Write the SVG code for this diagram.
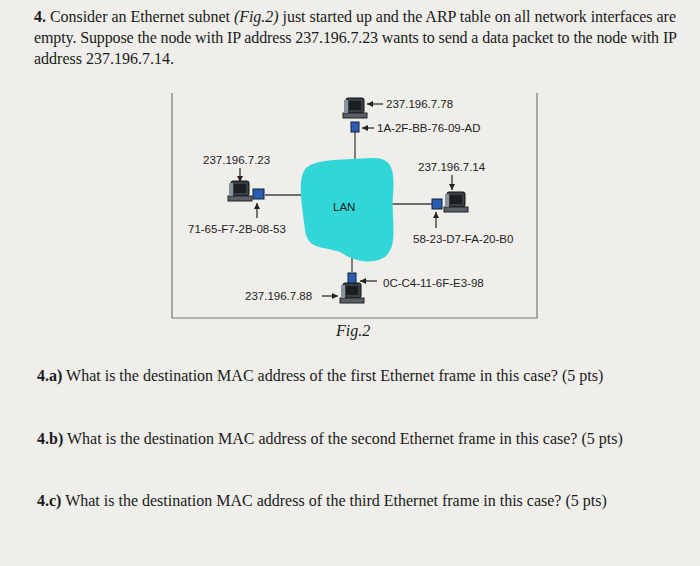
<svg xmlns="http://www.w3.org/2000/svg" width="700" height="566" viewBox="0 0 700 566">
<defs>
<style>
.t{font-family:"Liberation Serif",serif;font-size:16px;fill:#1a1a1a}
.s{font-family:"Liberation Sans",sans-serif;font-size:11.5px;fill:#222}
.ln{stroke:#444;stroke-width:1.3;fill:none}
.ar{stroke:#222;stroke-width:1.2;fill:none;marker-end:url(#a)}
.nic{fill:#2a5db0;stroke:#123}
</style>
<marker id="a" viewBox="0 0 6 6" refX="6" refY="3" markerWidth="5" markerHeight="5" orient="auto"><path d="M0,0L6,3L0,6z" fill="#222"/></marker>
<g id="pc">
<rect x="-9" y="-12" width="18" height="15" rx="2" fill="#3a3f45" stroke="#111"/>
<rect x="-6" y="-9" width="12" height="9" fill="#1c1f22"/>
<rect x="-12" y="3" width="24" height="5" fill="#5a6068" stroke="#222"/>
<rect x="-11" y="-10" width="4" height="13" fill="#8a939c"/>
</g>
</defs>
<rect width="700" height="566" fill="#efeeea"/>
<text class="t" x="34" y="22" textLength="642"><tspan font-weight="bold">4.</tspan>  Consider an Ethernet subnet <tspan font-style="italic">(Fig.2)</tspan> just started up and the ARP table on all network interfaces are</text>
<text class="t" x="34" y="43" textLength="643">empty. Suppose the node with IP address 237.196.7.23 wants to send a data packet to the node with IP</text>
<text class="t" x="34" y="64">address 237.196.7.14.</text>
<path d="M172,93V318H537V93" stroke="#777" stroke-width="1.2" fill="none"/>
<g id="connectors">
<path class="ln" d="M355,130V170M265,195H304M392,204H432M352,252V272"/>
<path class="ar" d="M383,104H367"/>
<path class="ar" d="M374,128H362"/>
<path class="ar" d="M240,168V182"/>
<path class="ar" d="M257,218V203"/>
<path class="ar" d="M452,175V190"/>
<path class="ar" d="M436,228V212"/>
<path class="ar" d="M377,281H360"/>
<path class="ar" d="M322,296H338"/>
</g>
<g id="lan">
<path d="M306,168C318,158 345,160 372,158C392,157 395,170 393,195C391,220 399,245 385,257C372,265 355,262 340,252C322,246 308,250 305,230C303,210 296,180 306,168Z" fill="#33d6d6"/>
<text class="s" x="333" y="211" font-size="14">LAN</text>
</g>
<g id="n78"><use href="#pc" x="355" y="110"/><rect class="nic" x="351" y="122" width="8" height="10"/><text class="s" x="386" y="108">237.196.7.78</text><text class="s" x="377" y="132">1A-2F-BB-76-09-AD</text></g>
<g id="n23"><use href="#pc" x="240" y="193"/><rect class="nic" x="253" y="189" width="11" height="10"/><text class="s" x="203" y="164">237.196.7.23</text><text class="s" x="188" y="233">71-65-F7-2B-08-53</text></g>
<g id="n14"><use href="#pc" x="456" y="204"/><rect class="nic" x="432" y="199" width="10" height="10"/><text class="s" x="418" y="171">237.196.7.14</text><text class="s" x="413" y="243">58-23-D7-FA-20-B0</text></g>
<g id="n88"><use href="#pc" x="352" y="295"/><rect class="nic" x="348" y="273" width="8" height="10"/><text class="s" x="383" y="287">0C-C4-11-6F-E3-98</text><text class="s" x="245" y="300">237.196.7.88</text></g>
<text class="t" x="336" y="336" font-style="italic">Fig.2</text>
<text class="t" x="37" y="381"><tspan font-weight="bold">4.a)</tspan> What is the destination MAC address of the first Ethernet frame in this case? (5 pts)</text>
<text class="t" x="37" y="444"><tspan font-weight="bold">4.b)</tspan> What is the destination MAC address of the second Ethernet frame in this case? (5 pts)</text>
<text class="t" x="37" y="506"><tspan font-weight="bold">4.c)</tspan> What is the destination MAC address of the third Ethernet frame in this case? (5 pts)</text>
</svg>
